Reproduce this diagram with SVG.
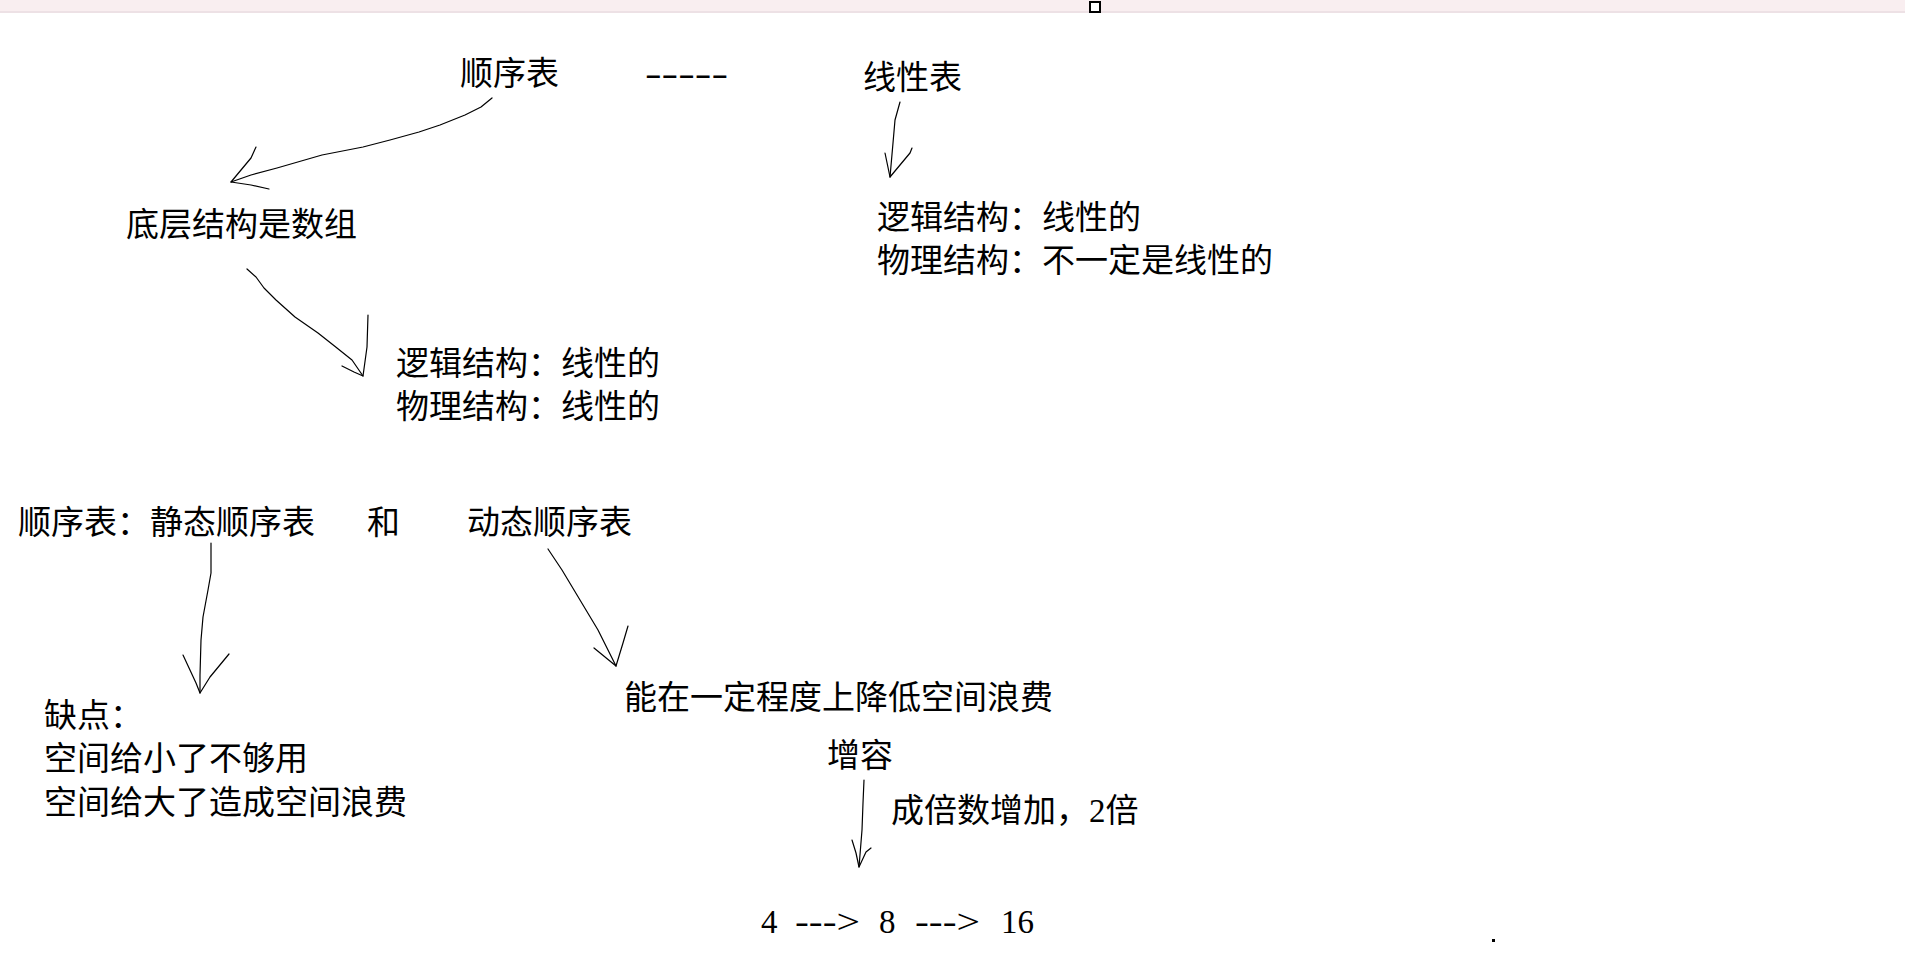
<svg xmlns="http://www.w3.org/2000/svg" width="1905" height="979" viewBox="0 0 1905 979">
<style>
.t{font-family:"Liberation Serif","Noto Sans CJK SC",serif;font-size:33px;fill:#000}
.d{font-family:"Liberation Mono",monospace;font-size:28px;fill:#000}
.c path{fill:none;stroke:#000;stroke-width:1.2;stroke-linejoin:round;stroke-linecap:round}
</style>
<rect x="0" y="0" width="1905" height="979" fill="#fff"/>
<g id="topbar">
<rect x="0" y="0" width="1905" height="11" fill="#F9EEF0"/>
<rect x="0" y="11" width="1905" height="2" fill="#EDE1E5"/>
<rect x="1090" y="2" width="10" height="10" fill="#fff" stroke="#000" stroke-width="2"/>
</g>
<g id="n-shunxubiao"><text class="t" x="460" y="85">顺序表</text></g>
<g id="n-dashes"><text class="t" x="645" y="85" textLength="83" lengthAdjust="spacingAndGlyphs">-----</text></g>
<g id="n-xianxingbiao"><text class="t" x="863" y="89">线性表</text></g>
<g id="n-xianxing-struct">
<text class="t" x="877" y="229">逻辑结构：线性的</text>
<text class="t" x="877" y="272">物理结构：不一定是线性的</text>
</g>
<g id="n-diceng"><text class="t" x="126" y="236">底层结构是数组</text></g>
<g id="n-shunxu-struct">
<text class="t" x="396" y="375">逻辑结构：线性的</text>
<text class="t" x="396" y="418">物理结构：线性的</text>
</g>
<g id="n-types">
<text class="t" x="18" y="534">顺序表：静态顺序表</text>
<text class="t" x="367" y="534">和</text>
<text class="t" x="467" y="534">动态顺序表</text>
</g>
<g id="n-quedian">
<text class="t" x="44" y="727">缺点：</text>
<text class="t" x="44" y="770">空间给小了不够用</text>
<text class="t" x="44" y="814">空间给大了造成空间浪费</text>
</g>
<g id="n-jiangdi"><text class="t" x="624" y="709">能在一定程度上降低空间浪费</text></g>
<g id="n-zengrong"><text class="t" x="827" y="767">增容</text></g>
<g id="n-beishu"><text class="t" x="891" y="822">成倍数增加，2倍</text></g>
<g id="n-seq"><text class="t" y="933"><tspan x="761">4</tspan> <tspan x="795" textLength="65" lengthAdjust="spacingAndGlyphs">---&gt;</tspan> <tspan x="879">8</tspan> <tspan x="915" textLength="65" lengthAdjust="spacingAndGlyphs">---&gt;</tspan> <tspan x="1001">16</tspan></text></g>
<g id="n-dot"><rect x="1492" y="939" width="3" height="3" fill="#000"/></g>
<g id="connectors" class="c">
<path d="M492,98 L481,107 L465,115 L440,125 L419,132 L390,140 L363,147 L322,155 L277,168 L251,175 L231,182"/>
<path d="M256,147 L251,158 L231,182 M231,182 L251,185 L269,189"/>
<path d="M247,269 L256,277 L264,288 L276,300 L295,317 L318,333 L337,348 L352,360 L363,376"/>
<path d="M368,315 L367,347 L363,376 M342,366 L354,372 L363,376"/>
<path d="M900,102 L895,120 L893,143 L890,177"/>
<path d="M885,153 L890,177 M912,148 L910,153 L890,177"/>
<path d="M211,543 L211,573 L208,590 L203,617 L201,640 L200,675 L200,693"/>
<path d="M183,655 L196,683 L200,693 M229,654 L210,677 L200,693"/>
<path d="M548,549 L562,570 L580,600 L598,630 L616,666"/>
<path d="M628,626 L623,643 L616,666 M594,648 L616,666"/>
<path d="M864,780 L863,803 L862,830 L859,867"/>
<path d="M852,840 L856,853 L859,867 M871,848 L866,852 L859,867"/>
</g>
</svg>
